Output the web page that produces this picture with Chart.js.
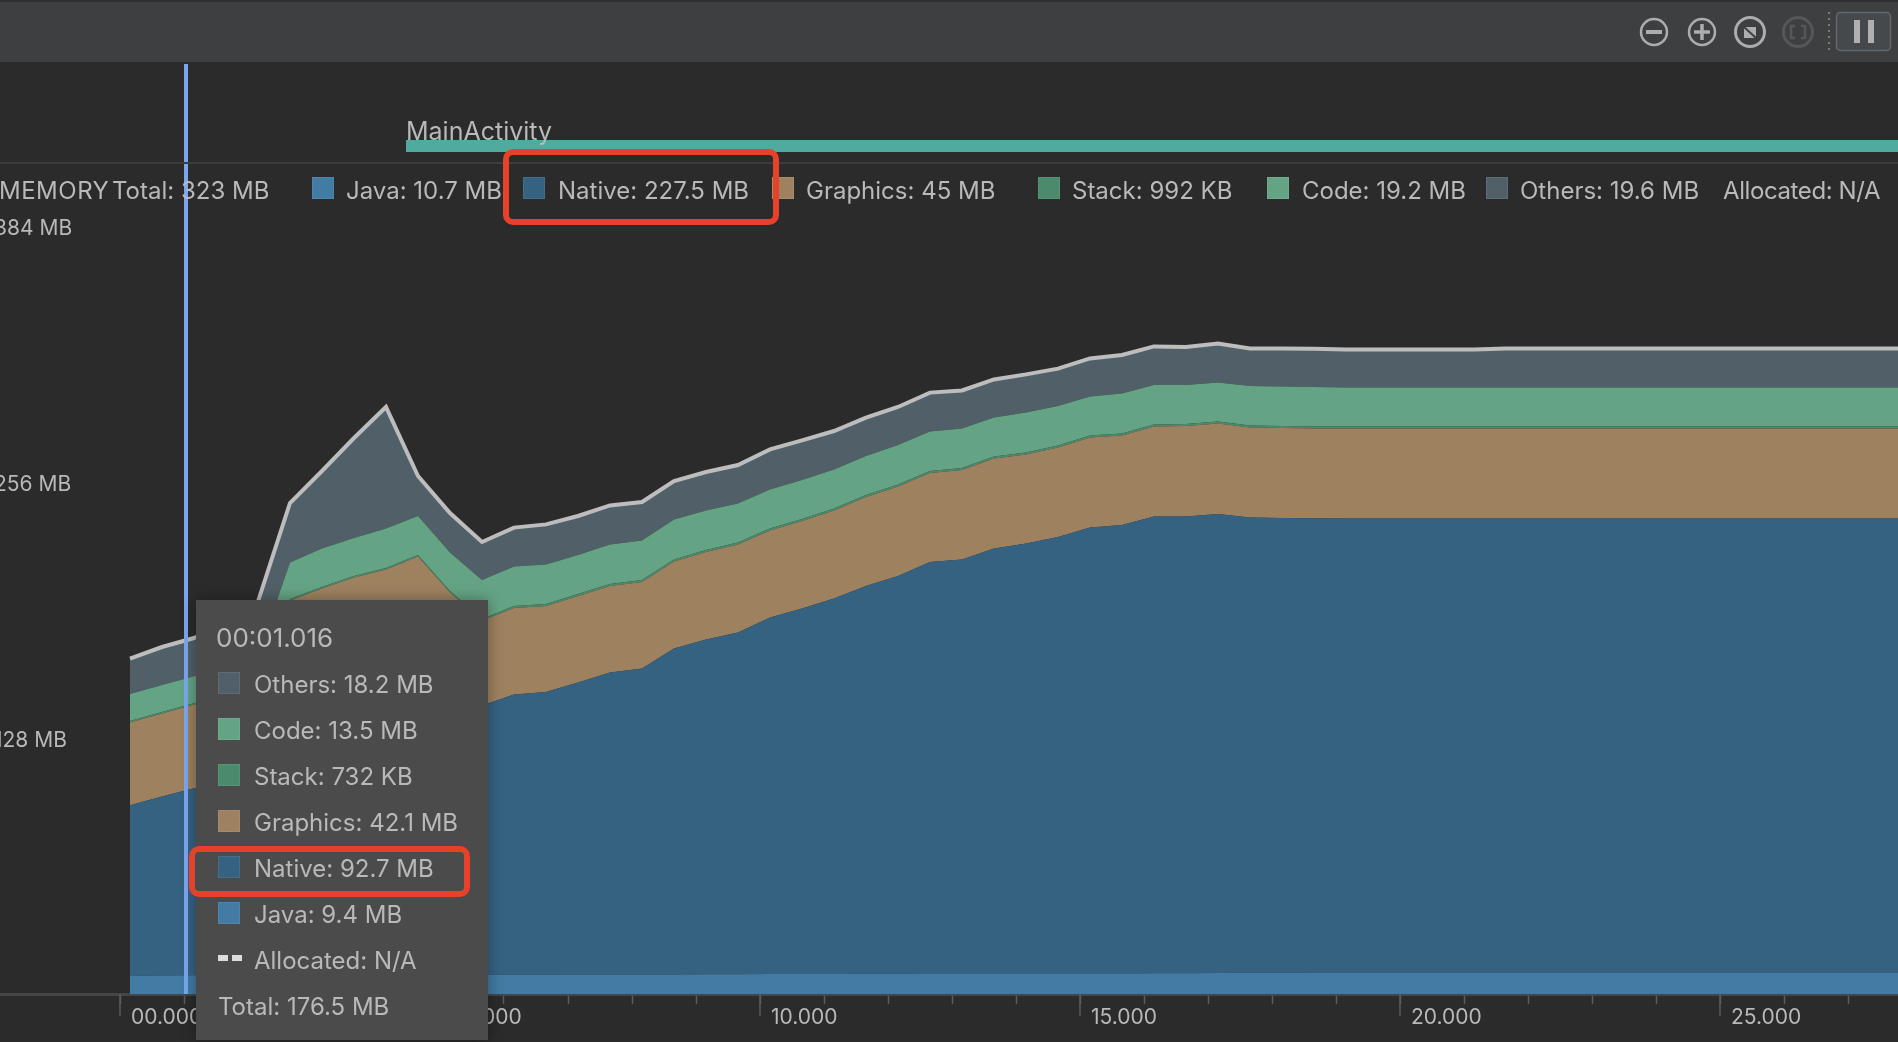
<!DOCTYPE html>
<html>
<head>
<meta charset="utf-8">
<title>Memory profiler</title>
<script src="https://cdn.jsdelivr.net/npm/chart.js@4"></script>
<style>
  html, body { margin: 0; padding: 0; background: #2b2b2b; overflow: hidden; }
  body { width: 1898px; height: 1042px; position: relative; font-family: Inter, sans-serif; color: #b9b9b9; }
  canvas { position: absolute; left: 0; top: 0; }
  .toolbar { position: absolute; left: 0; top: 2px; width: 1898px; height: 60px; background: #3e3f41; }
  .topline { position: absolute; left: 0; top: 0; width: 1898px; height: 2px; background: #303133; }
  .toolbar svg { position: absolute; left: 0; top: -2px; }
  .rule { position: absolute; left: 0; top: 162px; width: 1898px; height: 2px; background: #3c3c3c; }
  .activity { position: absolute; left: 406px; top: 117px; font-size: 25px; line-height: 28px; color: #b9b9b9; }
  .activity-bar { position: absolute; left: 406px; top: 140px; width: 1492px; height: 12px; background: #4fab9e; }
  .lg { position: absolute; top: 177px; font-size: 24px; line-height: 28px; white-space: nowrap; }
  .sw { position: absolute; top: 177px; width: 20px; height: 20px; border: 1px solid rgba(255,255,255,0.08); }
  .tip { position: absolute; left: 196px; top: 600px; width: 292px; height: 440px; background: #4a4b4a; box-shadow: 0 0 14px rgba(0,0,0,0.35); }
  .tip .t { position: absolute; white-space: nowrap; font-size: 24px; line-height: 28px; }
  .tip .s { position: absolute; left: 22px; width: 20px; height: 20px; border: 1px solid rgba(255,255,255,0.08); }
  .tip .d { position: absolute; top: 355px; width: 10px; height: 6px; background: #dcdcdc; }
  .mark { position: absolute; border: 6px solid #e8412a; border-radius: 10px; box-sizing: border-box; }
</style>
</head>
<body>
<canvas id="memChart" width="1898" height="1042"></canvas>

<div class="topline"></div>
<div class="toolbar">
  <svg width="1898" height="62" fill="none" stroke="#adadad">
    <circle cx="1654" cy="32" r="13" stroke-width="2.5"/>
    <path d="M1646 32h16" stroke-width="4"/>
    <circle cx="1702" cy="32" r="13" stroke-width="2.5"/>
    <path d="M1694 32h16M1702 24v16" stroke-width="3.5"/>
    <circle cx="1750" cy="32" r="14.5" stroke-width="3"/>
    <path d="M1744 27h12v11h-12z" fill="#adadad" stroke="none"/>
    <path d="M1744 27l12 11" stroke="#3e3f41" stroke-width="2"/>
    <circle cx="1798" cy="32" r="14.5" stroke="#565759" stroke-width="3"/>
    <path d="M1795 26h-4v12h4M1801 26h4v12h-4" stroke="#565759" stroke-width="2.5"/>
    <path d="M1829 12v38" stroke="#77787a" stroke-width="2" stroke-dasharray="2 4"/>
    <rect x="1836.5" y="12.5" width="54" height="38" rx="4" fill="#46494b" stroke="#62696f" stroke-width="1.5"/>
    <path d="M1854 20h6v23h-6zM1868 20h6v23h-6z" fill="#b0b0b0" stroke="none"/>
  </svg>
</div>

<div class="rule"></div>
<div class="activity-bar"></div>
<div class="activity">MainActivity</div>
<div id="legend"></div>
<div class="tip" id="tip"></div>
<div class="mark" style="left:503px;top:149px;width:276px;height:76px"></div>
<div class="mark" style="left:189px;top:846px;width:281px;height:51px"></div>

<script>
// sample times in seconds
const times = [0.156, 0.656, 1.156, 1.656, 2.156, 2.656, 3.156, 3.656, 4.156, 4.656, 5.156, 5.656,
  6.156, 6.656, 7.156, 7.656, 8.156, 8.656, 9.156, 9.656, 10.156, 10.656, 11.156, 11.656,
  12.156, 12.656, 13.156, 13.656, 14.156, 14.656, 15.156, 15.656, 16.156, 16.656, 17.156, 17.656,
  18.156, 18.656, 19.156, 19.656, 20.156, 20.656, 21.156, 21.656, 22.156, 22.656, 23.156, 23.656,
  24.156, 24.656, 25.156, 25.656, 26.156, 26.656, 27.156, 27.656, 28.156];

// memory per category, MB
const javaMb = [9, 9.3, 9.4, 9.4, 9.4, 9.5, 9.5, 9.5, 9.5, 9.5, 9.5, 9.5,
  9.6, 9.6, 9.7, 9.7, 9.8, 9.8, 9.9, 9.9, 10, 10, 10, 10.1,
  10.1, 10.2, 10.2, 10.2, 10.3, 10.3, 10.3, 10.3, 10.4, 10.4, 10.5, 10.6,
  10.6, 10.7, 10.7, 10.7, 10.7, 10.7, 10.7, 10.7, 10.7, 10.7, 10.7, 10.7,
  10.7, 10.7, 10.7, 10.7, 10.7, 10.7, 10.7, 10.7, 10.7];
const nativeMb = [85.4, 89.4, 93.5, 97, 102, 144.7, 150.7, 156.2, 160.2, 166.7, 148.7, 134.7,
  140.2, 141.4, 146, 151, 152.9, 163, 167.4, 170.8, 178.2, 182.7, 187.7, 193.9,
  198.9, 205.8, 207.1, 212.6, 214.9, 218.2, 222.9, 224.2, 228.3, 228.4, 229.5, 227.6,
  227.4, 227.2, 227, 227, 227, 227, 227, 227, 227, 227, 227, 227,
  227, 227, 227, 227, 227, 227, 227, 227, 227];
const graphicsMb = [41.4, 41.6, 41.8, 42.3, 41, 42.5, 42.5, 42.5, 42.5, 42.5, 42.5, 42.5,
  43.2, 43, 43.3, 43.3, 43.3, 43.5, 43.7, 44, 43.6, 43.8, 44.1, 44.5,
  44.8, 44.5, 44.7, 44.9, 44.6, 44.7, 45, 44.8, 45.1, 45.2, 45.3, 45.1,
  45, 44.9, 45, 45, 45, 45, 45, 45, 45, 45, 45, 45,
  45, 45, 45, 45, 45, 45, 45, 45, 45];
const stackMb = [0.7, 0.7, 0.7, 0.7, 0.8, 0.8, 0.8, 0.8, 0.8, 0.8, 0.8, 0.8,
  1, 1, 1, 1, 1, 1, 1, 1, 1, 1, 1, 1,
  1, 1, 1, 1, 1, 1, 1, 1, 1, 1, 1, 1,
  1, 1, 1, 1, 1, 1, 1, 1, 1, 1, 1, 1,
  1, 1, 1, 1, 1, 1, 1, 1, 1];
const codeMb = [13.5, 13.5, 13.5, 14, 16, 18.2, 19.2, 19, 19.7, 19.5, 19.2, 19.5,
  19.7, 19.8, 19.5, 19.8, 19.7, 20, 19.7, 19.6, 19.5, 19.5, 19.5, 19.5,
  19.7, 19.7, 19.7, 19.5, 19.9, 19.8, 19.5, 19.9, 19.7, 19.5, 19.4, 19.7,
  19.7, 19.7, 19.6, 19.6, 19.6, 19.6, 19.6, 19.6, 19.6, 19.6, 19.6, 19.6,
  19.6, 19.6, 19.6, 19.6, 19.6, 19.6, 19.6, 19.6, 19.6];
const othersMb = [17.7, 19, 19.1, 22, 27, 29.8, 38.8, 50, 60.8, 20, 19.8, 19,
  19.5, 20, 19.5, 19.5, 19.3, 19.2, 19.3, 19.2, 20, 19.8, 19.2, 19.2,
  19, 19.5, 19.1, 19.1, 19.1, 18.7, 19.1, 19.3, 19.3, 19, 19.6, 18.8,
  19, 19.1, 18.9, 18.9, 18.9, 18.9, 18.9, 19.5, 19.5, 19.5, 19.5, 19.5,
  19.5, 19.5, 19.5, 19.5, 19.5, 19.5, 19.5, 19.5, 19.5];

// axis ticks
const secondTicks = [0, 1, 2, 3, 4, 5, 6, 7, 8, 9, 10, 11, 12, 13, 14, 15, 16, 17, 18, 19, 20, 21, 22, 23, 24, 25, 26, 27];
const labelledSeconds = [0, 5, 10, 15, 20, 25];
const secondLabels = ['00.000', '05.000', '10.000', '15.000', '20.000', '25.000'];
const mbTicks = [128, 256, 384];

// colours
const javaColor = '#427ba3';
const nativeColor = '#366282';
const graphicsColor = '#9e8260';
const stackColor = '#4b8a6c';
const codeColor = '#64a484';
const othersColor = '#516068';
const textColor = '#b9b9b9';

// readouts
const headerTexts = ['MEMORY', 'Total: 323 MB', 'Allocated: N/A'];
const headerLeft = [-1, 112, 1723];
const headerSpacing = [0.5, 0, -0.4];
const legendTexts = ['Java: 10.7 MB', 'Native: 227.5 MB', 'Graphics: 45 MB', 'Stack: 992 KB', 'Code: 19.2 MB', 'Others: 19.6 MB'];
const legendColors = [javaColor, nativeColor, graphicsColor, stackColor, codeColor, othersColor];
const swatchLeft = [312, 523, 772, 1038, 1267, 1486];
const legendLeft = [346, 558, 806, 1072, 1302, 1520];

const cursorTime = 1.016;
const tipTime = '00:01.016';
const tipTexts = ['Others: 18.2 MB', 'Code: 13.5 MB', 'Stack: 732 KB', 'Graphics: 42.1 MB', 'Native: 92.7 MB', 'Java: 9.4 MB'];
const tipColors = [othersColor, codeColor, stackColor, graphicsColor, nativeColor, javaColor];
const tipAllocated = 'Allocated: N/A';
const tipTotal = 'Total: 176.5 MB';

// Legend row above the chart
const legend = document.getElementById('legend');
let legendHtml = '';
headerTexts.forEach((text, i) => {
  legendHtml += `<div class="lg" style="left:${headerLeft[i]}px;letter-spacing:${headerSpacing[i]}px">${text}</div>`;
});
legendTexts.forEach((text, i) => {
  legendHtml += `<div class="sw" style="left:${swatchLeft[i]}px;background:${legendColors[i]}"></div>`;
  legendHtml += `<div class="lg" style="left:${legendLeft[i]}px">${text}</div>`;
});
legend.innerHTML = legendHtml;

// Hover card
const tip = document.getElementById('tip');
let tipHtml = `<div class="t" style="left:20px;top:23px;font-size:26px;line-height:30px">${tipTime}</div>`;
tipTexts.forEach((text, i) => {
  tipHtml += `<div class="s" style="top:${72 + i * 46}px;background:${tipColors[i]}"></div>`;
  tipHtml += `<div class="t" style="left:58px;top:${71 + i * 46}px">${text}</div>`;
});
tipHtml += '<div class="d" style="left:22px"></div><div class="d" style="left:36px"></div>';
tipHtml += `<div class="t" style="left:58px;top:347px">${tipAllocated}</div>`;
tipHtml += `<div class="t" style="left:22px;top:393px">${tipTotal}</div>`;
tip.innerHTML = tipHtml;

// Long ticks and the cursor line
const overlayPlugin = {
  id: 'overlay',
  afterDraw(chart) {
    const ctx = chart.ctx;
    const x = chart.scales.x;
    const area = chart.chartArea;
    ctx.save();
    ctx.strokeStyle = '#5c5c5c';
    ctx.lineWidth = 1.5;
    labelledSeconds.forEach(s => {
      const px = x.getPixelForValue(s);
      ctx.beginPath();
      ctx.moveTo(px, area.bottom);
      ctx.lineTo(px, area.bottom + 22);
      ctx.stroke();
    });
    ctx.strokeStyle = '#7aa7f0';
    ctx.lineWidth = 4;
    const cursorX = x.getPixelForValue(cursorTime) + 1;
    ctx.beginPath();
    ctx.moveTo(cursorX, area.top);
    ctx.lineTo(cursorX, area.bottom);
    ctx.stroke();
    ctx.restore();
  }
};

function points(values) {
  return values.map((v, i) => ({ x: times[i], y: v }));
}

function area(label, values, color, fill, line, lineWidth) {
  return {
    label: label,
    data: points(values),
    backgroundColor: color,
    borderColor: line || color,
    borderWidth: lineWidth || 0,
    fill: fill,
    tension: 0,
    pointRadius: 0,
    borderJoinStyle: 'miter'
  };
}

new Chart(document.getElementById('memChart'), {
  type: 'line',
  data: {
    datasets: [
      area('Java', javaMb, javaColor, 'origin'),
      area('Native', nativeMb, nativeColor, '-1'),
      area('Graphics', graphicsMb, graphicsColor, '-1'),
      area('Stack', stackMb, stackColor, '-1'),
      area('Code', codeMb, codeColor, '-1'),
      area('Others', othersMb, othersColor, '-1', '#bdbdbd', 4)
    ]
  },
  options: {
    responsive: false,
    animation: false,
    devicePixelRatio: 1,
    layout: { autoPadding: false, padding: { top: 64 } },
    plugins: { legend: { display: false }, tooltip: { enabled: false } },
    scales: {
      x: {
        type: 'linear',
        min: -1.875,
        max: 27.78125,
        afterBuildTicks: scale => { scale.ticks = secondTicks.map(v => ({ value: v })); },
        afterFit: scale => { scale.height = 48; },
        grid: { drawOnChartArea: false, tickLength: 10, tickColor: '#5c5c5c', tickWidth: 1.5 },
        border: { display: true, color: '#464646', width: 3 },
        ticks: {
          autoSkip: false,
          maxRotation: 0,
          minRotation: 0,
          align: 'start',
          labelOffset: 11,
          padding: 1,
          color: textColor,
          font: { family: 'Inter', size: 21 },
          callback: value => {
            const i = labelledSeconds.indexOf(value);
            return i >= 0 ? secondLabels[i] : '';
          }
        }
      },
      y: {
        type: 'linear',
        stacked: true,
        min: 0,
        max: 465,
        afterBuildTicks: scale => { scale.ticks = mbTicks.map(v => ({ value: v })); },
        grid: { display: false, drawTicks: false },
        border: { display: false },
        ticks: {
          mirror: true,
          padding: -2,
          labelOffset: 3,
          color: textColor,
          font: { family: 'Inter', size: 21 },
          callback: value => value + ' MB'
        }
      }
    }
  },
  plugins: [overlayPlugin]
});
</script>
</body>
</html>
